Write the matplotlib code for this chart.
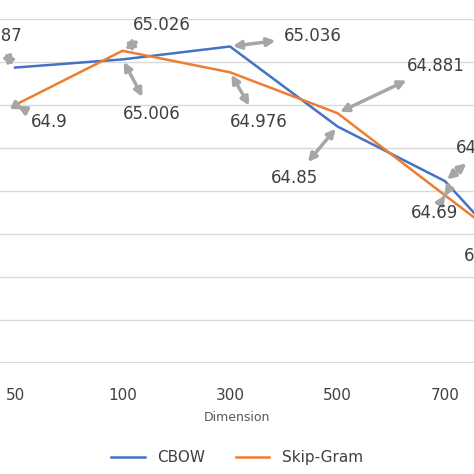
import matplotlib.pyplot as plt

dims = ['50', '100', '300', '500', '700', '900']
cbow = [64.987, 65.006, 65.036, 64.85, 64.723, 64.45]
skip = [64.9, 65.026, 64.976, 64.881, 64.69, 64.5]

# label positions (category index, value) for the value callouts
cbow_lbl = [(-0.2, 65.06), (1.0, 64.88), (2.5, 65.06), (2.6, 64.73), (4.1, 64.8), (4.4, 64.55)]
skip_lbl = [(0.15, 64.86), (1.1, 65.085), (2.0, 64.86), (3.65, 64.99), (3.9, 64.65), (None, None)]

fig = plt.figure(figsize=(4.74, 4.74), dpi=100)
ax = fig.add_axes([0, 0.234, 1, 0.726])
x = range(len(dims))
ax.plot(x, cbow, color='#4472C4', lw=1.8, label='CBOW')
ax.plot(x, skip, color='#ED7D31', lw=1.8, label='Skip-Gram')
ax.set_xticks(list(x))
ax.set_xticklabels(dims)
ax.set_xlim(-0.14, 4.27)
ax.set_ylim(64.3, 65.1)
ax.set_yticks([64.3 + 0.1 * i for i in range(9)])
ax.set_yticklabels([])
ax.tick_params(length=0, labelsize=11, colors='#404040', pad=18)
ax.grid(axis='y', color='#d9d9d9', lw=1)
for s in ax.spines.values():
    s.set_visible(False)
ax.axhline(64.3, color='#d9d9d9', lw=1.5)

arrow = dict(arrowstyle='<|-|>', color='#a6a6a6', lw=2.5, mutation_scale=12, shrinkA=4, shrinkB=2)
for vals, lbls in ((cbow, cbow_lbl), (skip, skip_lbl)):
    for i, (v, (lx, ly)) in enumerate(zip(vals, lbls)):
        if lx is None:
            continue
        ax.annotate(f'{v:g}', xy=(i, v), xytext=(lx, ly), ha='left' if lx >= i else 'center',
                    va='center', fontsize=12, color='#404040', arrowprops=arrow,
                    annotation_clip=False)

fig.text(0.5, 0.112, 'Dimension', ha='center', fontsize=9, color='#595959')
fig.legend(loc='lower center', bbox_to_anchor=(0.5, -0.01), ncol=2, frameon=False,
           fontsize=11, handlelength=2.2, labelcolor='#404040')
fig.savefig('out.png', dpi=100)
